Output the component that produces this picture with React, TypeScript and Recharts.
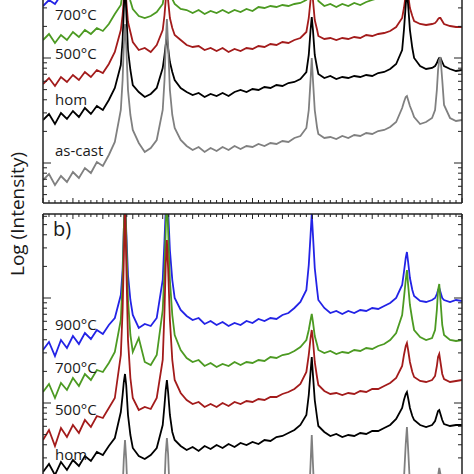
import { LineChart, Line, XAxis, YAxis } from "recharts";

// 2-theta grid (deg), denser around the reflections
const twoTheta = [
  30, 31, 32, 33, 34, 35, 36, 37, 38, 39, 40, 41, 42, 43,
  43.3, 43.5, 43.7, 43.9, 44.2, 44.6,
  45, 46, 47, 48, 49, 50,
  50.3, 50.5, 50.7, 50.9, 51.2, 51.6,
  52, 53, 54, 55, 56, 57, 58, 59, 60, 61, 62, 63, 64, 65, 66, 67, 68, 69, 70, 71, 72, 73, 74,
  74.4, 74.7, 74.9, 75.1, 75.4, 75.8,
  76, 77, 78, 79, 80, 81, 82, 83, 84, 85, 86, 87, 88, 89, 90,
  90.3, 90.6, 90.8, 91.0, 91.3, 91.7,
  92, 93, 94, 95,
  95.5, 95.8, 96.0, 96.2, 96.4, 96.7,
  97, 98, 99, 100,
];

// panel a) – log intensity, offset (arb. units)
const aBlue900 = [
  19.7, 20.3, 19.9, 20.8, 20.6, 21.4, 21.2, 21.8, 21.7, 22.2, 22.3, 22.9, 23.6, 26.0,
  29, 32, 35, 32, 28, 26,
  24.8, 24.0, 23.8, 24.0, 24.6, 26.5,
  29, 32, 35, 32, 28.5, 26.5,
  25.5, 25.0, 24.7, 24.5, 24.6, 24.4, 24.5, 24.4, 24.6, 24.5, 24.7, 24.6, 24.8, 24.8, 25.0, 25.0, 25.2, 25.3, 25.5, 25.7, 26.0, 26.4, 27.2,
  29, 32, 35, 32, 29, 27.5,
  26.6, 26.3, 26.2, 26.3, 26.2, 26.4, 26.3, 26.5, 26.5, 26.7, 26.8, 27.0, 27.3, 27.8, 28.8,
  30, 31.5, 32, 31, 29.5, 28.5,
  27.8, 27.5, 27.4, 27.6,
  27.9, 28.3, 28.8, 29.0, 28.6, 28.0,
  27.7, 27.5, 27.6, 27.5,
];
const aGreen700 = [
  16.3, 16.9, 16.0, 16.8, 16.3, 17.1, 16.6, 17.3, 16.9, 17.5, 17.2, 17.9, 18.9, 19.8,
  21, 24, 27, 24, 21.5, 20.2,
  19.4, 18.7, 18.5, 18.7, 19.1, 19.9,
  21, 24, 27, 24, 21.5, 20.4,
  19.9, 19.4, 19.3, 19.0, 19.3, 18.9, 19.2, 19.0, 19.3, 19.0, 19.3, 19.1, 19.4, 19.2, 19.6, 19.5, 19.7, 19.6, 19.8, 19.7, 19.9, 20.0, 20.3,
  21.5, 24, 26, 24, 22, 20.8,
  20.2, 19.7, 19.9, 19.6, 19.9, 19.7, 20.0, 19.8, 20.1, 20.3, 20.5, 20.7, 20.9, 21.2, 21.8,
  22.5, 24, 26, 24, 22.8, 22.0,
  21.6, 21.5, 21.6, 21.8,
  22.0, 22.6, 23.4, 24.0, 23.6, 22.6,
  22.0, 21.9, 22.0, 22.0,
];
const aRed500 = [
  11.9, 12.5, 11.7, 12.6, 12.1, 12.8, 12.3, 13.1, 12.6, 13.3, 13.0, 13.9, 15.1, 17.3,
  18.8, 20.3, 22.3, 20.3, 18.1, 17.1,
  16.1, 15.3, 15.5, 15.1, 15.8, 17.3,
  18.8, 20.3, 22.3, 20.3, 18.5, 17.5,
  16.8, 16.3, 15.8, 15.6, 15.7, 15.3, 15.5, 15.2, 15.5, 15.1, 15.4, 15.2, 15.5, 15.4, 15.7, 15.6, 15.9, 15.8, 16.1, 16.0, 16.3, 16.5, 17.1,
  18.5, 20.3, 21.8, 20.3, 18.3, 17.3,
  16.7, 16.4, 16.5, 16.3, 16.5, 16.4, 16.6, 16.5, 16.8, 16.7, 16.9, 17.0, 17.2, 17.6, 18.5,
  19.5, 20.8, 21.8, 20.8, 19.5, 18.7,
  18.2, 17.9, 17.8, 17.9,
  18.0, 18.2, 18.4, 18.5, 18.5, 18.2,
  17.9, 17.7, 17.6, 17.6,
];
const aBlackHom = [
  8.3, 8.9, 7.9, 9.0, 8.4, 9.2, 8.6, 9.5, 8.9, 9.7, 9.3, 10.3, 11.5, 13.8,
  16.3, 19.3, 22.3, 19.3, 15.3, 13.3,
  11.8, 11.1, 10.6, 10.9, 11.5, 13.5,
  14.8, 15.8, 16.5, 15.5, 14.1, 13.1,
  12.3, 11.5, 11.1, 10.8, 11.0, 10.6, 10.9, 10.7, 11.0, 10.7, 11.1, 11.3, 11.1, 11.4, 11.3, 11.6, 11.5, 11.8, 11.7, 12.0, 12.1, 12.4, 13.1,
  14.8, 17.3, 18.6, 17.3, 14.8, 13.5,
  12.9, 12.5, 12.7, 12.4, 12.6, 12.5, 12.7, 12.6, 12.8, 12.7, 13.0, 13.1, 13.4, 13.9, 15.3,
  17.3, 19.8, 21.3, 19.8, 17.3, 15.5,
  14.5, 13.7, 13.4, 13.5,
  13.7, 14.0, 14.3, 14.5, 14.5, 14.1,
  13.7, 13.4, 13.2, 13.3,
];
const aGrayCast = [
  2.3, 2.9, 1.8, 2.7, 2.1, 3.1, 2.5, 3.5, 3.0, 4.1, 3.7, 4.8, 6.1, 9.3,
  12.3, 15.8, 17.9, 15.8, 11.3, 8.8,
  7.3, 6.0, 5.1, 5.5, 6.3, 9.3,
  12.3, 15.8, 18.4, 15.8, 11.3, 8.8,
  7.5, 6.3, 5.7, 5.3, 5.6, 5.1, 5.5, 5.2, 5.6, 5.3, 5.7, 5.4, 5.7, 5.6, 5.9, 5.7, 6.0, 5.9, 6.2, 6.1, 6.5, 6.7, 7.5,
  9.3, 12.3, 14.5, 12.3, 9.3, 7.5,
  6.9, 6.5, 6.6, 6.4, 6.7, 6.5, 6.8, 6.7, 7.0, 6.9, 7.2, 7.3, 7.6, 8.1, 9.5,
  10.1, 10.6, 10.7, 10.3, 9.7, 9.1,
  8.6, 7.9, 8.1, 8.5,
  9.3, 11.3, 13.3, 14.3, 14.6, 12.3,
  9.8, 8.5, 8.2, 8.3,
];

// panel b)
const bBlue900 = [
  14.4, 15.2, 13.8, 15.4, 14.6, 15.8, 15.0, 16.1, 15.5, 16.4, 16.0, 16.9, 17.6, 19.9,
  22.4, 26.4, 30.4, 26.4, 21.9, 19.4,
  17.9, 16.6, 17.0, 16.8, 17.6, 21.4,
  25.4, 28.4, 31.4, 28.4, 24.4, 21.4,
  19.6, 18.4, 17.8, 17.4, 17.6, 17.0, 17.3, 16.9, 17.2, 16.8, 17.1, 16.9, 17.3, 17.1, 17.5, 17.3, 17.6, 17.5, 17.9, 18.1, 18.6, 19.2, 20.4,
  22.9, 25.9, 28.0, 25.9, 22.6, 20.4,
  19.4, 18.6, 18.1, 18.3, 18.0, 18.3, 18.1, 18.4, 18.3, 18.6, 18.5, 18.8, 19.1, 19.6, 20.9,
  22.2, 23.6, 24.2, 23.2, 21.6, 20.4,
  19.8, 19.3, 19.2, 19.4,
  19.6, 20.0, 20.4, 20.6, 20.2, 19.6,
  19.4, 19.2, 19.4, 19.3,
];
const bGreen700 = [
  10.2, 11.0, 9.6, 11.1, 10.4, 11.6, 10.8, 12.0, 11.4, 12.4, 12.2, 13.1, 14.2, 17.4,
  21.4, 26.4, 30.4, 25.9, 19.4, 15.9,
  14.2, 15.6, 13.2, 12.9, 13.9, 18.4,
  22.4, 26.4, 30.4, 26.4, 21.4, 17.9,
  15.9, 14.4, 13.6, 13.2, 13.4, 12.8, 13.1, 12.7, 13.0, 12.8, 13.2, 12.9, 13.2, 13.1, 13.4, 13.3, 13.7, 13.6, 13.9, 14.0, 14.3, 14.7, 15.4,
  16.4, 17.4, 18.0, 17.2, 15.8, 14.9,
  14.4, 14.1, 14.3, 14.0, 14.2, 14.1, 14.4, 14.3, 14.6, 14.5, 14.8, 15.0, 15.4, 16.1, 17.9,
  19.6, 21.4, 22.4, 20.9, 18.9, 17.4,
  16.4, 15.7, 15.4, 15.6,
  16.4, 18.4, 20.4, 21.0, 19.4, 16.9,
  15.9, 15.4, 15.3, 15.4,
];
const bRed500 = [
  5.4, 6.4, 4.8, 6.6, 5.7, 6.9, 6.1, 7.4, 6.7, 7.8, 7.6, 8.6, 9.6, 13.9,
  18.4, 23.4, 29.4, 23.4, 15.4, 11.6,
  9.6, 8.4, 8.7, 8.5, 9.6, 13.4,
  18.4, 22.9, 25.4, 22.6, 17.4, 13.4,
  11.4, 10.1, 9.4, 9.0, 9.2, 8.7, 9.0, 8.7, 9.1, 8.8, 9.2, 9.0, 9.3, 9.2, 9.5, 9.4, 9.7, 9.7, 10.0, 10.2, 10.5, 11.0, 12.2,
  13.9, 15.6, 16.4, 15.4, 13.2, 11.6,
  10.9, 10.3, 10.0, 10.1, 9.9, 10.1, 10.0, 10.3, 10.2, 10.5, 10.5, 10.8, 11.1, 11.6, 12.8,
  13.9, 14.8, 15.1, 14.4, 13.2, 12.2,
  11.7, 11.3, 11.2, 11.4,
  11.8, 12.8, 13.7, 14.0, 13.2, 12.0,
  11.5, 11.2, 11.3, 11.4,
];
const bBlackHom = [
  2.2, 3.0, 1.9, 3.2, 2.4, 3.4, 2.8, 3.8, 3.3, 4.2, 3.9, 4.8, 5.6, 8.2,
  9.9, 11.2, 12.0, 10.9, 7.9, 5.9,
  4.6, 3.8, 3.5, 3.9, 4.6, 6.9,
  8.9, 10.4, 11.4, 10.2, 7.9, 6.2,
  5.4, 4.8, 4.4, 4.7, 4.3, 4.8, 4.5, 4.9, 4.6, 5.0, 4.7, 5.1, 4.9, 5.2, 5.0, 5.4, 5.3, 5.7, 5.8, 6.1, 6.4, 6.9, 7.9,
  9.9, 12.2, 13.7, 11.9, 9.4, 7.6,
  6.8, 6.2, 5.8, 6.0, 5.7, 5.9, 5.8, 6.1, 6.0, 6.3, 6.3, 6.6, 6.9, 7.5, 8.6,
  9.4, 10.0, 10.2, 9.6, 8.6, 7.8,
  7.4, 6.9, 6.7, 6.9,
  7.3, 7.9, 8.3, 8.4, 8.0, 7.4,
  7.0, 6.8, 6.9, 6.9,
];
const bGrayCast = [
  -8.0, -7.5, -8.2, -7.4, -7.8, -7.0, -7.5, -6.8, -7.0, -6.4, -6.6, -5.9, -5.2, -3.0,
  0.5, 3.5, 5.4, 3.5, -1.0, -3.5,
  -5.0, -6.0, -6.5, -6.3, -5.5, -2.5,
  1.0, 4.0, 5.6, 4.0, -0.5, -3.5,
  -5.0, -5.8, -6.2, -6.5, -6.3, -6.6, -6.4, -6.6, -6.3, -6.5, -6.2, -6.4, -6.2, -6.3, -6.0, -6.1, -5.8, -5.9, -5.6, -5.5, -5.2, -5.0, -4.3,
  -1.0, 3.0, 5.9, 3.0, -1.0, -3.5,
  -4.5, -5.0, -5.0, -5.2, -5.0, -5.1, -4.9, -5.0, -4.8, -4.8, -4.5, -4.4, -4.1, -3.5, -1.5,
  1.5, 5.0, 6.7, 4.5, 1.0, -1.5,
  -2.8, -3.6, -3.5, -3.0,
  -2.0, 0.0, 1.8, 2.6, 2.0, -0.5,
  -2.0, -3.0, -3.2, -3.1,
];

const COLORS = { blue: "#2323e6", green: "#4c9a22", red: "#a31b1b", black: "#000000", gray: "#808080" };
const AXIS = "#222";
const FONT = '"Open Sans", "DejaVu Sans", sans-serif';

const xTicks = Array.from({ length: 71 }, (_, i) => 30 + i);

// log-style tick marks: decade boundary + 2..9 sub-ticks
function logTicks(firstMajor: number, decade: number, lo: number, hi: number) {
  const ticks: number[] = [];
  const majors: number[] = [];
  for (let m = firstMajor; m <= hi; m += decade) {
    for (let k = 1; k <= 9; k++) {
      const v = Math.round((m + decade * Math.log10(k)) * 1000) / 1000;
      if (v >= lo && v <= hi) {
        ticks.push(v);
        if (k === 1) majors.push(v);
      }
    }
  }
  return { ticks, majors };
}

const topTicks = logTicks(-6.5, 10.5, 0, 28);
const botTicks = logTicks(-1.4, 10.5, 0, 28);

function rows(series: Record<string, number[]>) {
  return twoTheta.map((t, i) => {
    const r: any = { t };
    Object.keys(series).forEach((k) => (r[k] = series[k][i]));
    return r;
  });
}

const topRows = rows({ blue: aBlue900, green: aGreen700, red: aRed500, black: aBlackHom, gray: aGrayCast });
const botRows = rows({ blue: bBlue900, green: bGreen700, red: bRed500, black: bBlackHom, gray: bGrayCast });

const seriesKeys = ["blue", "green", "red", "black", "gray"] as const;

function Panel({ data, top, xSide, yt }: any) {
  const dir = xSide === "bottom" ? -1 : 1;
  const xTick = (p: any) => {
    const major = Math.round(p.payload.value) % 5 === 0;
    const len = major ? 5 : 3;
    return <line x1={p.x} x2={p.x} y1={p.y} y2={p.y + dir * len} stroke={AXIS} strokeWidth={1} />;
  };
  const yTick = (side: number) => (p: any) => {
    const major = yt.majors.some((m: number) => Math.abs(m - p.payload.value) < 1e-6);
    const len = major ? 8 : 4;
    return <line x1={p.x} x2={p.x + side * len} y1={p.y} y2={p.y} stroke={AXIS} strokeWidth={1} />;
  };
  const common = {
    type: "number" as const,
    domain: [0, 28],
    ticks: yt.ticks,
    interval: 0 as const,
    tickSize: 0,
    tickMargin: 0,
    tickLine: false,
    allowDataOverflow: true,
    axisLine: { stroke: AXIS, strokeWidth: 1.5 },
  };
  return (
    <div style={{ position: "absolute", left: 0, top }}>
      <LineChart
        width={474}
        height={290}
        data={data}
        margin={{ top: xSide === "bottom" ? 5 : 0, right: 0, bottom: xSide === "bottom" ? 0 : 5, left: 0 }}
      >
        <XAxis
          dataKey="t"
          type="number"
          domain={[30, 100]}
          ticks={xTicks}
          interval={0}
          orientation={xSide}
          height={5}
          tickSize={0}
          tickMargin={0}
          tickLine={false}
          allowDataOverflow
          axisLine={{ stroke: AXIS, strokeWidth: 1.5 }}
          tick={xTick}
        />
        <YAxis yAxisId="l" orientation="left" width={43} {...common} tick={yTick(1)} />
        <YAxis yAxisId="r" orientation="right" width={12} {...common} tick={yTick(-1)} />
        {seriesKeys.map((k) => (
          <Line
            key={k}
            yAxisId="l"
            type="linear"
            dataKey={k}
            stroke={COLORS[k]}
            strokeWidth={1.8}
            strokeLinejoin="miter"
            dot={false}
            activeDot={false}
            isAnimationActive={false}
          />
        ))}
      </LineChart>
    </div>
  );
}

export default function App() {
  const lab = { fontFamily: FONT, fontSize: 15, fill: "#1a1a1a" };
  return (
    <div style={{ position: "absolute", left: 0, top: 0, width: 474, height: 474, overflow: "hidden", background: "#fff" }}>
      <Panel data={topRows} top={-82} xSide="bottom" yt={topTicks} />
      <Panel data={botRows} top={209} xSide="top" yt={botTicks} />
      <svg width={474} height={474} style={{ position: "absolute", left: 0, top: 0, pointerEvents: "none" }}>
        <text x={24} y={214} transform="rotate(-90 24 214)" textAnchor="middle" style={{ fontFamily: FONT, fontSize: 19, fill: "#1a1a1a" }}>
          Log (Intensity)
        </text>
        <text x={55} y={20} style={lab}>700°C</text>
        <text x={55} y={59} style={lab}>500°C</text>
        <text x={55} y={105} style={lab}>hom</text>
        <text x={55} y={156} style={lab}>as-cast</text>
        <text x={53} y={236} style={{ ...lab, fontSize: 20 }}>b)</text>
        <text x={55} y={330} style={lab}>900°C</text>
        <text x={55} y={373} style={lab}>700°C</text>
        <text x={55} y={415} style={lab}>500°C</text>
        <text x={55} y={460} style={lab}>hom</text>
      </svg>
    </div>
  );
}
